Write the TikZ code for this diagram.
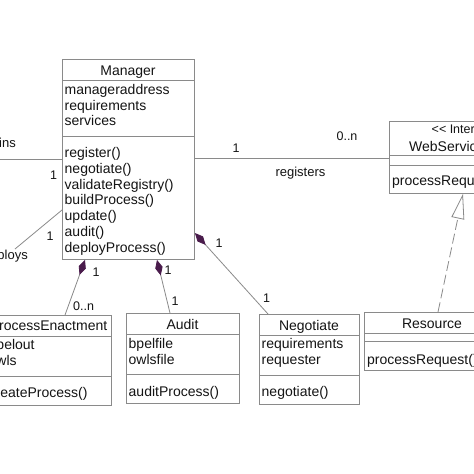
\documentclass[tikz,border=0pt]{standalone}
\usepackage{fontspec}
\setmainfont{Liberation Sans}
\usetikzlibrary{arrows.meta}
\definecolor{boxgray}{HTML}{8A8A8A}
\definecolor{linegray}{HTML}{8A8A8A}
\definecolor{ink}{HTML}{141414}
\definecolor{diam}{HTML}{4A1C4C}
\tikzset{
 umlbox/.style={draw=boxgray, fill=white, line width=0.9pt, inner sep=0pt, anchor=north west},
 sepline/.style={draw=boxgray, line width=0.9pt},
 tx/.style={anchor=base west, inner sep=0pt, font=\fontsize{14}{16}\selectfont, text=ink},
 tc/.style={anchor=base, inner sep=0pt, font=\fontsize{14}{16}\selectfont, text=ink},
 lb/.style={anchor=base, inner sep=0pt, font=\fontsize{12.5}{14}\selectfont, text=ink},
 assoc/.style={draw=linegray, line width=0.8pt},
 compo/.style={assoc, {Diamond[length=16pt,width=7.5pt,color=diam]}-},
 realiz/.style={assoc, dash pattern=on 10pt off 4pt, -{Triangle[open,length=25pt,width=13pt,fill=white]}},
}
\begin{document}
\begin{tikzpicture}[x=1pt,y=-1pt]
\useasboundingbox (0,0) rectangle (474,474);
\clip (0,0) rectangle (474,474);
\fill[white] (0,0) rectangle (474,474);

% ---------- Manager ----------
\node[umlbox, minimum width=132pt, minimum height=200pt] (mgr) at (62,59) {};
\draw[sepline] ([yshift=-21pt]mgr.north west) -- ([yshift=-21pt]mgr.north east);
\draw[sepline] ([yshift=-77pt]mgr.north west) -- ([yshift=-77pt]mgr.north east);
\node[tc] (mgrname) at (128,75.7) {Manager};
\node[tx] (mgra1) at (64.5,94) {manageraddress};
\node[tx] (mgra2) at (64.5,110) {requirements};
\node[tx] (mgra3) at (64.5,125.6) {services};
\node[tx] (mgrm1) at (64.5,157.5) {register()};
\node[tx] (mgrm2) at (64.5,173.3) {negotiate()};
\node[tx] (mgrm3) at (64.5,189.1) {validateRegistry()};
\node[tx] (mgrm4) at (64.5,204.9) {buildProcess()};
\node[tx] (mgrm5) at (64.5,220.7) {update()};
\node[tx] (mgrm6) at (64.5,236.5) {audit()};
\node[tx] (mgrm7) at (64.5,252.3) {deployProcess()};

% ---------- WebService ----------
\node[umlbox, minimum width=130pt, minimum height=72pt] (ws) at (389,121) {};
\draw[sepline] ([yshift=-34pt]ws.north west) -- ([yshift=-34pt]ws.north east);
\draw[sepline] ([yshift=-44pt]ws.north west) -- ([yshift=-44pt]ws.north east);
\node[tx, font=\fontsize{12.5}{14}\selectfont] (wsst) at (431.5,133.3) {<{}< Interface >{}>};
\node[tx] (wsname) at (409,151.7) {WebService};
\node[tx] (wsm1) at (392,185) {processRequest()};

% ---------- Resource ----------
\node[umlbox, minimum width=150pt, minimum height=58pt] (res) at (364,312) {};
\draw[sepline] ([yshift=-21pt]res.north west) -- ([yshift=-21pt]res.north east);
\draw[sepline] ([yshift=-29pt]res.north west) -- ([yshift=-29pt]res.north east);
\node[tc] (resname) at (432,328.3) {Resource};
\node[tx] (resm1) at (367,364) {processRequest()};

% ---------- Negotiate ----------
\node[umlbox, minimum width=100pt, minimum height=90pt] (neg) at (259,314) {};
\draw[sepline] ([yshift=-21pt]neg.north west) -- ([yshift=-21pt]neg.north east);
\draw[sepline] ([yshift=-61pt]neg.north west) -- ([yshift=-61pt]neg.north east);
\node[tc] (negname) at (309,330) {Negotiate};
\node[tx] (nega1) at (261.5,348.3) {requirements};
\node[tx] (nega2) at (261.5,364) {requester};
\node[tx] (negm1) at (261.5,396.7) {negotiate()};

% ---------- Audit ----------
\node[umlbox, minimum width=113pt, minimum height=90pt] (aud) at (126,313) {};
\draw[sepline] ([yshift=-21pt]aud.north west) -- ([yshift=-21pt]aud.north east);
\draw[sepline] ([yshift=-61pt]aud.north west) -- ([yshift=-61pt]aud.north east);
\node[tc] (audname) at (182.5,329) {Audit};
\node[tx] (auda1) at (128.5,348.3) {bpelfile};
\node[tx] (auda2) at (128.5,364) {owlsfile};
\node[tx] (audm1) at (128.5,396.7) {auditProcess()};

% ---------- ProcessEnactment ----------
\node[umlbox, minimum width=125pt, minimum height=90pt] (pe) at (-14,315) {};
\draw[sepline] ([yshift=-21pt]pe.north west) -- ([yshift=-21pt]pe.north east);
\draw[sepline] ([yshift=-61pt]pe.north west) -- ([yshift=-61pt]pe.north east);
\node[tc] (pename) at (48.5,330) {ProcessEnactment};
\node[tx] (pea1) at (-11.5,349) {bpelout};
\node[tx] (pea2) at (-11.5,365) {owls};
\node[tx] (pem1) at (-11.5,397.3) {createProcess()};

% ---------- connectors ----------
\coordinate (insend) at (0,159);
\draw[assoc] (mgr.west |- insend) -- (insend);
\node[lb, anchor=base east, font=\fontsize{13}{15}\selectfont] (lins) at (16,147.3) {ins};
\node[lb] (lins1) at (53.5,179) {1};

\coordinate (deployend) at (15,249);
\draw[assoc] ([yshift=-151pt]mgr.north west) -- (deployend);
\node[lb, anchor=base east, font=\fontsize{13}{15}\selectfont] (ldep) at (28,259) {ploys};
\node[lb] (ldep1) at (50,240) {1};

\draw[assoc] ([yshift=-99pt]mgr.north east) -- ([yshift=-37pt]ws.north west);
\node[lb] (lreg1) at (236,152) {1};
\node[lb] (lreg2) at (347,140) {0..n};
\node[lb, font=\fontsize{13}{15}\selectfont] (lreg) at (300.5,176) {registers};

\draw[compo] ([xshift=23pt]mgr.south west) -- ([xshift=79pt]pe.north west);
\node[lb] (lpe1) at (96,276) {1};
\node[lb, anchor=base west] (lpe2) at (73,310) {0..n};

\draw[compo] ([xshift=95pt]mgr.south west) -- ([xshift=44pt]aud.north west);
\node[lb] (lau1) at (168,274) {1};
\node[lb] (lau2) at (175,305) {1};

\draw[compo] ([yshift=-174pt]mgr.north east) -- ([xshift=9pt]neg.north west);
\node[lb] (lng1) at (219,247) {1};
\node[lb] (lng2) at (266.5,302.5) {1};

\draw[realiz] ([xshift=74pt]res.north west) -- ([xshift=74pt]ws.south west);
\end{tikzpicture}
\end{document}
